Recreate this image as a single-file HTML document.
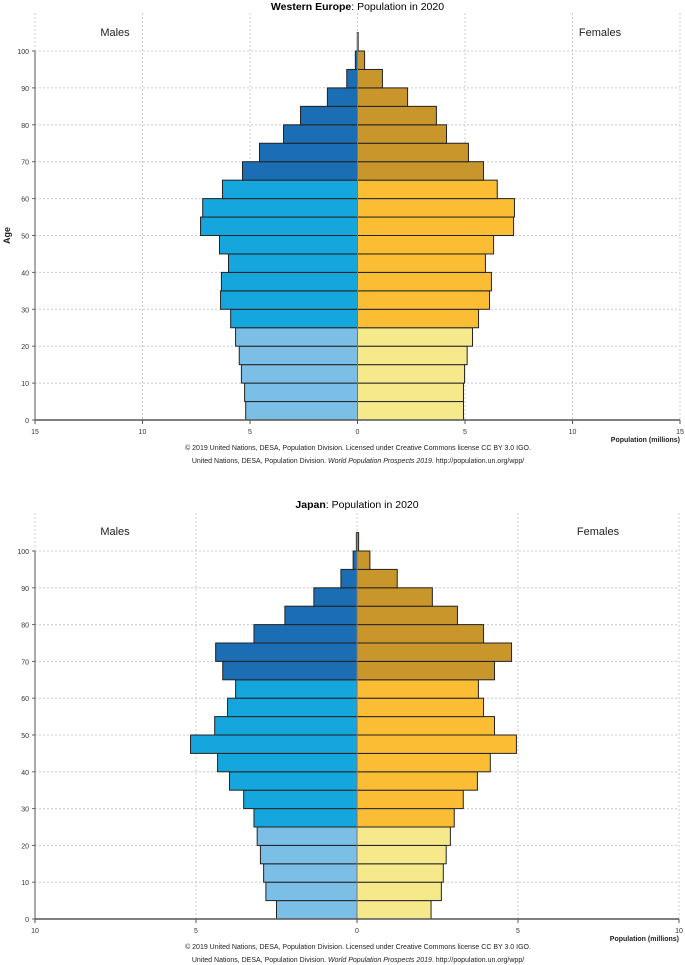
<!DOCTYPE html>
<html><head><meta charset="utf-8"><style>
html,body{margin:0;padding:0;background:#fff;}
svg{display:block;font-family:"Liberation Sans",sans-serif;}
</style></head><body>
<svg id="s" width="685" height="965"></svg>
<script>
const ageGroups=["0-4","5-9","10-14","15-19","20-24","25-29","30-34","35-39","40-44","45-49","50-54","55-59","60-64","65-69","70-74","75-79","80-84","85-89","90-94","95-99","100+"];
const weMales=[5.2,5.25,5.4,5.5,5.67,5.9,6.37,6.33,6.0,6.42,7.3,7.2,6.28,5.35,4.56,3.44,2.65,1.4,0.5,0.1,0.01];
const weFemales=[4.93,4.93,4.98,5.1,5.35,5.63,6.14,6.23,5.95,6.33,7.26,7.3,6.5,5.86,5.16,4.14,3.67,2.33,1.16,0.33,0.03];
const jpMales=[2.5,2.83,2.9,3.0,3.1,3.2,3.52,3.96,4.33,5.17,4.42,4.02,3.77,4.17,4.39,3.2,2.24,1.34,0.5,0.12,0.02];
const jpFemales=[2.3,2.62,2.68,2.77,2.9,3.02,3.3,3.74,4.14,4.95,4.27,3.93,3.77,4.27,4.8,3.93,3.12,2.34,1.25,0.4,0.05];
const weXTicks=[15,10,5,0,5,10,15];
const jpXTicks=[10,5,0,5,10];
const ageTicks=[0,10,20,30,40,50,60,70,80,90,100];

const NS="http://www.w3.org/2000/svg";
const svg=document.getElementById('s');
function el(tag,attrs,parent,txt){const e=document.createElementNS(NS,tag);for(const k in attrs)e.setAttribute(k,attrs[k]);if(txt!==undefined)e.textContent=txt;(parent||svg).appendChild(e);return e;}
function colorsFor(i,male){if(i<5)return male?"#7cbfe6":"#f6e98c";if(i<13)return male?"#14a6dc":"#fbbd33";return male?"#1b6db4":"#c8962b";}

function chart(cfg){
  const g=el('g',{});
  
  
  const max=cfg.max, L=cfg.left, R=cfg.right, C=(L+R)/2;
  const xs=v=>C+v*(R-C)/max;
  const ys=a=>cfg.y0-(cfg.y0-cfg.y100)*a/100;
  const t=el('text',{x:C,y:cfg.titleY,'text-anchor':'middle','font-size':10.5,fill:'#000'},g);
  
  el('tspan',{'font-weight':'bold'},t,cfg.region);
  el('tspan',{},t,': Population in 2020');
  const step=5;
  for(let v=-max;v<=max;v+=step){
    const gl=el('line',{x1:xs(v),x2:xs(v),y1:cfg.gridTop,y2:cfg.y0,stroke:'#ccc','stroke-dasharray':'2,2'},g);
    
  }
  ageTicks.forEach(a=>{
    const gl=el('line',{x1:L,x2:R,y1:ys(a),y2:ys(a),stroke:'#ccc','stroke-dasharray':'2,2'},g);
    
    const tl=el('text',{x:L-6,y:ys(a)+3,'text-anchor':'end','font-size':7,fill:'#333'},g,String(a));
    
    el('line',{x1:L-3,x2:L,y1:ys(a),y2:ys(a),stroke:'#666'},g);
  });
  const bh=(cfg.y0-cfg.y100)*5/100;
  ageGroups.forEach((ag,i)=>{
    const yTop=ys(i*5+5);
    const mw=xs(cfg.males[i])-C, fw=xs(cfg.females[i])-C;
    const mb=el('rect',{x:C-mw,y:yTop,width:mw,height:bh,fill:colorsFor(i,true),stroke:'#222','stroke-width':1},g);
    
    const fb=el('rect',{x:C,y:yTop,width:fw,height:bh,fill:colorsFor(i,false),stroke:'#222','stroke-width':1},g);
    
  });
  el('line',{x1:C,x2:C,y1:ys(105),y2:cfg.y0,stroke:'#777','stroke-width':1},g);
  const ax=el('line',{x1:L,x2:R,y1:cfg.y0,y2:cfg.y0,stroke:'#555','stroke-width':1.5},g);
  
  const ay=el('line',{x1:L,x2:L,y1:ys(100),y2:cfg.y0,stroke:'#555','stroke-width':1},g);
  
  cfg.ticks.forEach((tv,k)=>{
    const v=-max+k*step;
    el('line',{x1:xs(v),x2:xs(v),y1:cfg.y0,y2:cfg.y0+4,stroke:'#555'},g);
    const tl=el('text',{x:xs(v),y:cfg.y0+14,'text-anchor':'middle','font-size':7,fill:'#333'},g,String(tv));
    
  });
  const xt=el('text',{x:R,y:cfg.y0+22,'text-anchor':'end','font-size':7,'font-weight':'bold',fill:'#222'},g,'Population (millions)');
  
  if(cfg.ageLabel){
    const yt=el('text',{x:0,y:0,transform:`translate(10,${(cfg.y0+cfg.y100)/2}) rotate(-90)`,'text-anchor':'middle','font-size':9,'font-weight':'bold',fill:'#222'},g,'Age');
    
  }
  const m=el('text',{x:cfg.malesX,y:cfg.labY,'text-anchor':'middle','font-size':11,fill:'#222'},g,'Males');
  
  const f=el('text',{x:cfg.femalesX,y:cfg.labY,'text-anchor':'middle','font-size':11,fill:'#222'},g,'Females');
  
  const c1=el('text',{x:358,y:cfg.y0+30,'text-anchor':'middle','font-size':7,fill:'#222'},g,'© 2019 United Nations, DESA, Population Division. Licensed under Creative Commons license CC BY 3.0 IGO.');
  
  const c2=el('text',{x:358,y:cfg.y0+43,'text-anchor':'middle','font-size':7,fill:'#222'},g);
  
  el('tspan',{},c2,'United Nations, DESA, Population Division. ');
  el('tspan',{'font-style':'italic'},c2,'World Population Prospects 2019');
  el('tspan',{},c2,'. http://population.un.org/wpp/');
}
chart({name:'western-europe-pyramid',region:'Western Europe',males:weMales,females:weFemales,max:15,ticks:weXTicks,left:35,right:680,y0:420,y100:51,titleY:10,gridTop:13,labY:36,malesX:115,femalesX:600,ageLabel:true});
chart({name:'japan-pyramid',region:'Japan',males:jpMales,females:jpFemales,max:10,ticks:jpXTicks,left:35,right:679,y0:919,y100:551,titleY:508,gridTop:513,labY:535,malesX:115,femalesX:598,ageLabel:false});
</script>
</body></html>
